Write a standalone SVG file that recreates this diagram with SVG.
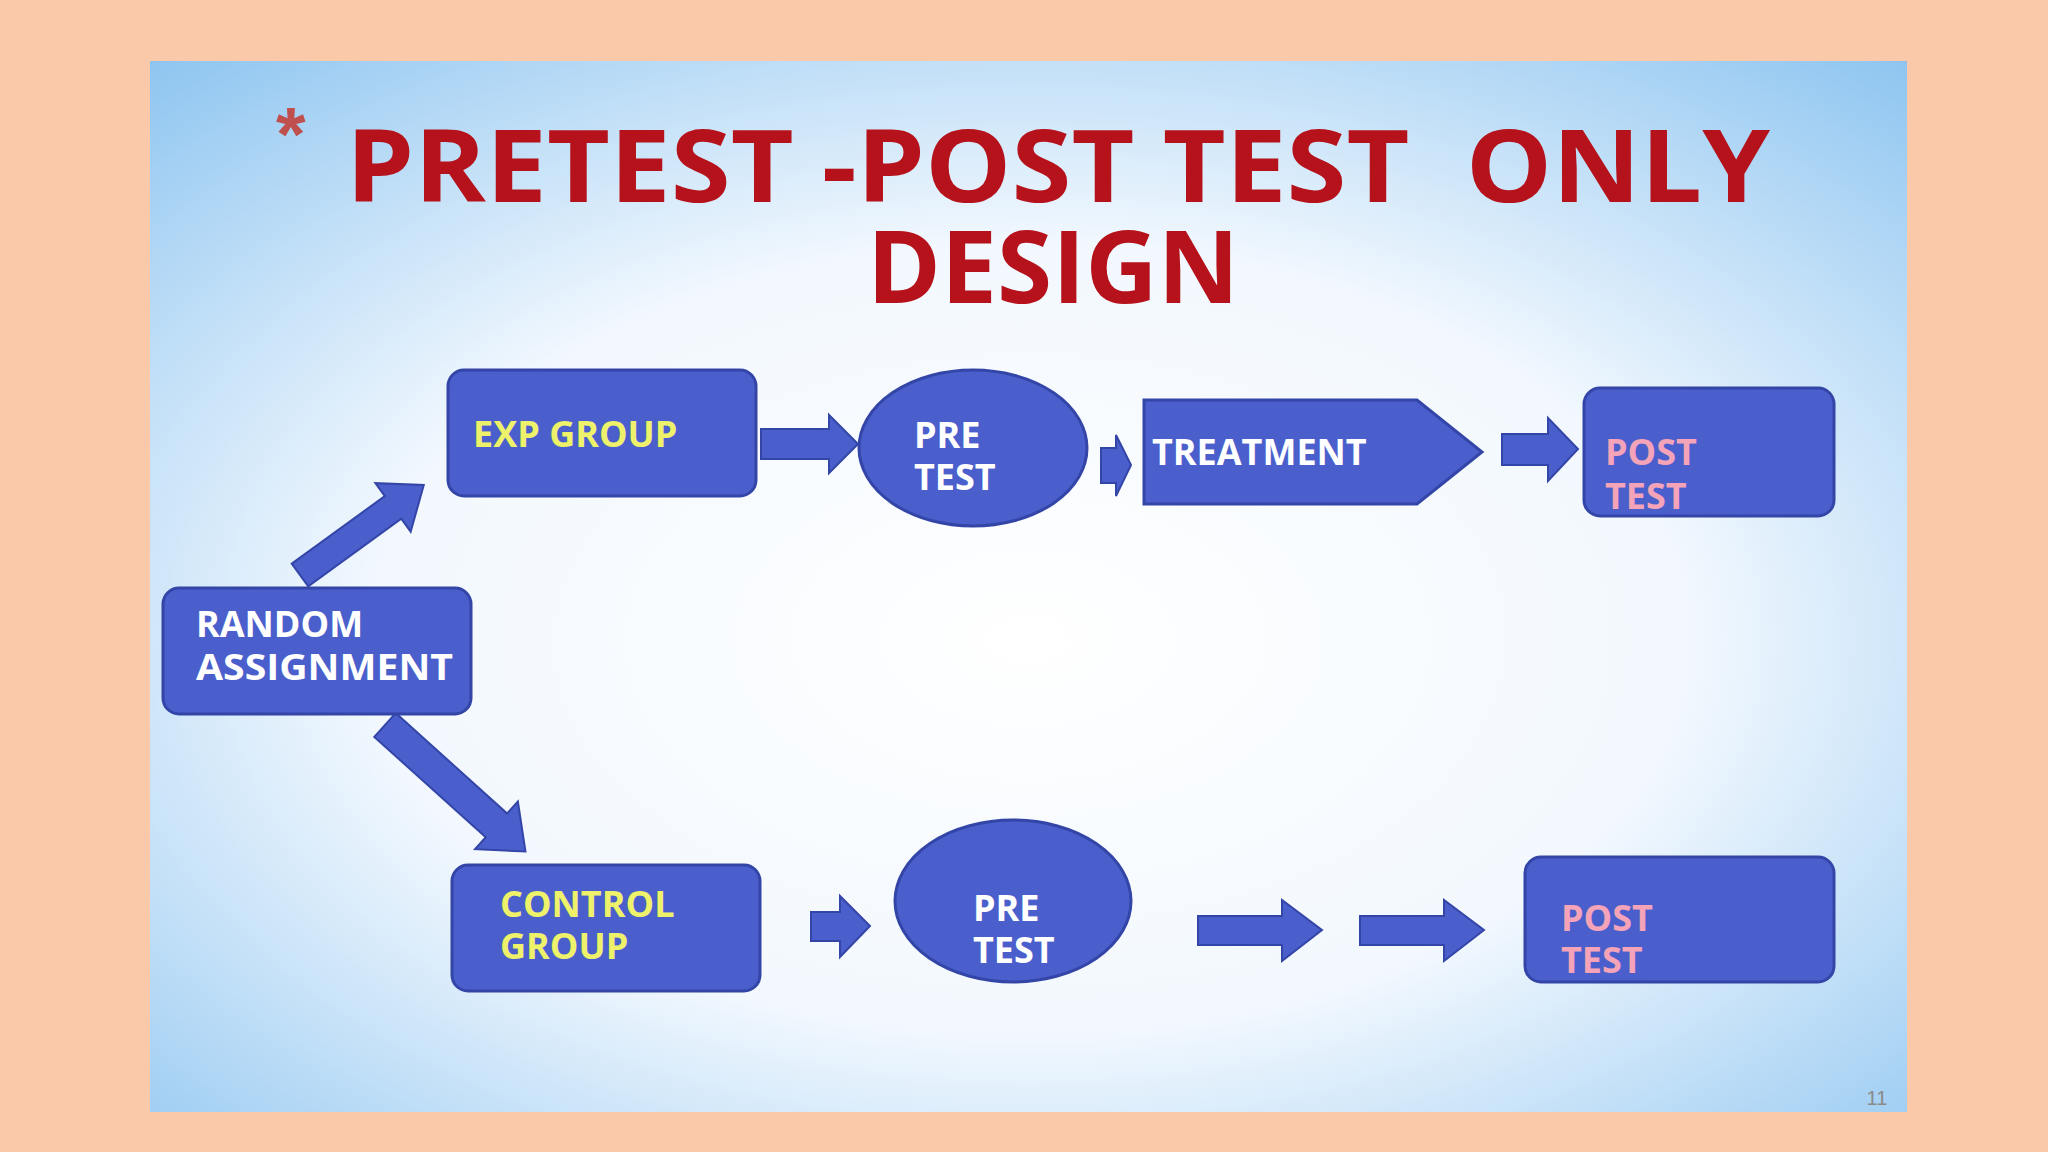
<svg xmlns="http://www.w3.org/2000/svg" width="2048" height="1152" viewBox="0 0 2048 1152">
<defs>
<radialGradient id="bg" cx="0.5" cy="0.55" r="0.75">
<stop offset="0" stop-color="#FFFFFF"/>
<stop offset="0.5" stop-color="#F2F8FE"/>
<stop offset="1" stop-color="#8CC4F0"/>
</radialGradient>
<style>
.n{fill:#4A5FCB;stroke:#3445A8;stroke-width:3}
.a{fill:#4A5FCB;stroke:#3445A8;stroke-width:2}
.t{font-family:"Open Sans","Liberation Sans",sans-serif;font-weight:bold;font-size:36px}
.w{fill:#FFFFFF}.y{fill:#EEF26A}.p{fill:#F4A3B8}
.ti{font-family:"Open Sans","Liberation Sans",sans-serif;font-weight:bold;font-size:100px;fill:#B5121B}
</style>
</defs>
<rect width="2048" height="1152" fill="#F9C9AA"/>
<rect x="150" y="61" width="1757" height="1051" fill="url(#bg)"/>
<g id="title">
<text x="276" y="160" font-family="Liberation Sans,sans-serif" font-size="76" font-weight="bold" fill="#C0504D">*</text>
<text x="346" y="202" class="ti" textLength="1424" lengthAdjust="spacingAndGlyphs" xml:space="preserve">PRETEST -POST TEST  ONLY</text>
<text x="1053" y="303" class="ti" text-anchor="middle">DESIGN</text>
</g>
<g id="connectors">
<path class="a" d="M761,429 H829 V415 L858,444 L829,473 V459 H761 Z"/>
<path class="a" d="M1101,448 H1116 V435 L1131,465 L1116,496 V483 H1101 Z"/>
<path class="a" d="M1502,434 H1548 V418 L1578,449 L1548,481 V465 H1502 Z"/>
<path class="a" transform="translate(300,575) rotate(-36)" d="M0,-14 H115 V-30 L153,0 L115,30 V14 H0 Z"/>
<path class="a" transform="translate(385,725) rotate(42)" d="M0,-16 H150 V-32 L189,0 L150,32 V16 H0 Z"/>
<path class="a" d="M811,912 H840 V896 L870,926 L840,957 V941 H811 Z"/>
<path class="a" d="M1198,916 H1282 V900 L1322,930 L1282,961 V945 H1198 Z"/>
<path class="a" d="M1360,916 H1444 V900 L1484,930 L1444,961 V945 H1360 Z"/>
</g>
<g id="random"><rect class="n" x="163" y="588" width="308" height="126" rx="16"/>
<text class="t w" x="196" y="637">RANDOM</text><text class="t w" x="196" y="680" textLength="257" lengthAdjust="spacingAndGlyphs">ASSIGNMENT</text></g>
<g id="exp"><rect class="n" x="448" y="370" width="308" height="126" rx="16"/>
<text class="t y" x="473" y="447">EXP GROUP</text></g>
<g id="pre1"><ellipse class="n" cx="973" cy="448" rx="114" ry="78"/>
<text class="t w" x="914" y="448">PRE</text><text class="t w" x="914" y="490">TEST</text></g>
<g id="treatment"><path class="n" d="M1144,400 H1417 L1482,452 L1417,504 H1144 Z"/>
<text class="t w" x="1152" y="465">TREATMENT</text></g>
<g id="post1"><rect class="n" x="1584" y="388" width="250" height="128" rx="16"/>
<text class="t p" x="1605" y="465">POST</text><text class="t p" x="1605" y="509">TEST</text></g>
<g id="control"><rect class="n" x="452" y="865" width="308" height="126" rx="16"/>
<text class="t y" x="500" y="917">CONTROL</text><text class="t y" x="500" y="959">GROUP</text></g>
<g id="pre2"><ellipse class="n" cx="1013" cy="901" rx="118" ry="81"/>
<text class="t w" x="973" y="921">PRE</text><text class="t w" x="973" y="963">TEST</text></g>
<g id="post2"><rect class="n" x="1525" y="857" width="309" height="125" rx="16"/>
<text class="t p" x="1561" y="931">POST</text><text class="t p" x="1561" y="973">TEST</text></g>
<text x="1877" y="1105" font-family="Liberation Sans,sans-serif" font-size="20" fill="#8A8A8A" text-anchor="middle">11</text>
</svg>
